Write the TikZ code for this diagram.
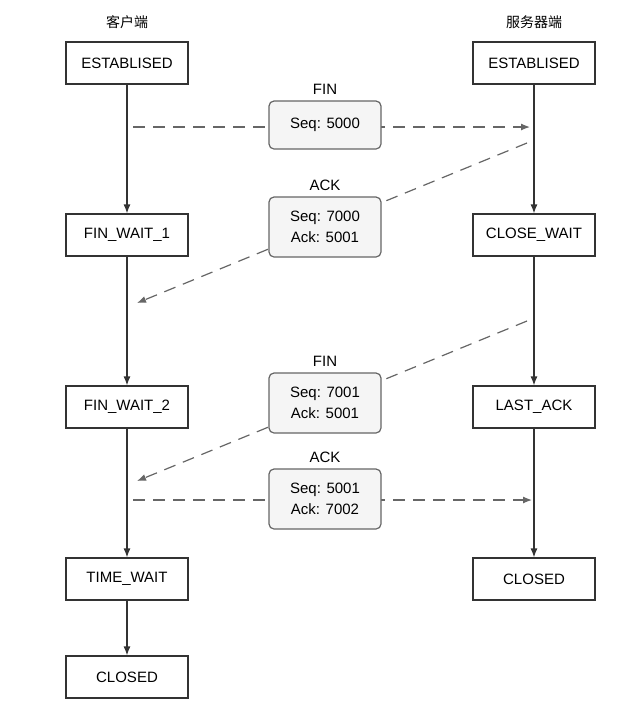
\documentclass[tikz,border=0pt]{standalone}
\usepackage{fontspec}
\setmainfont{Liberation Sans}
\newfontfamily\cjk{Noto Sans CJK SC}
\usetikzlibrary{arrows.meta}
\definecolor{ln}{HTML}{333333}
\definecolor{dl}{HTML}{666666}
\definecolor{bx}{HTML}{F5F5F5}
\begin{document}
\begin{tikzpicture}[x=1pt,y=-1pt,
  font=\fontsize{15}{18}\selectfont,
  st/.style={draw=ln,line width=1.2pt,minimum width=122pt,minimum height=42pt,inner sep=0pt},
  msg/.style={draw=dl,line width=1.2pt,fill=bx,rounded corners=5pt,minimum width=112pt,align=center,inner sep=3pt},
  lbl/.style={inner sep=0pt},
  flow/.style={ln,line width=1.2pt,-{Latex[length=9pt,width=7pt]}},
  msgln/.style={dl,line width=1.2pt,dash pattern=on 12pt off 8pt,-{Latex[length=9pt,width=7pt]}}]
\useasboundingbox (0,0) rectangle (640,716);
% headers
\node[lbl,font=\cjk\fontsize{14}{16}\selectfont] (hc) at (127,22) {客户端};
\node[lbl,font=\cjk\fontsize{14}{16}\selectfont] (hs) at (534,22) {服务器端};
% states
\node[st] (c1) at (127,63) {ESTABLISED};
\node[st] (c2) at (127,235) {FIN\_WAIT\_1};
\node[st] (c3) at (127,407) {FIN\_WAIT\_2};
\node[st] (c4) at (127,579) {TIME\_WAIT};
\node[st] (c5) at (127,677) {CLOSED};
\node[st] (s1) at (534,63) {ESTABLISED};
\node[st] (s2) at (534,235) {CLOSE\_WAIT};
\node[st] (s3) at (534,407) {LAST\_ACK};
\node[st] (s4) at (534,579) {CLOSED};
\draw[flow] (c1) -- (c2);
\draw[flow] (c2) -- (c3);
\draw[flow] (c3) -- (c4);
\draw[flow] (c4) -- (c5);
\draw[flow] (s1) -- (s2);
\draw[flow] (s2) -- (s3);
\draw[flow] (s3) -- (s4);
% message end points
\coordinate (a1) at (133,127); \coordinate (b1) at (530,127);
\coordinate (a2) at (527,143); \coordinate (b2) at (137,303);
\coordinate (a3) at (527,321); \coordinate (b3) at (137,481);
\coordinate (a4) at (133,500); \coordinate (b4) at (532,500);
\draw[msgln] (a1) -- (b1);
\draw[msgln] (a2) -- (b2);
\draw[msgln] (a3) -- (b3);
\draw[msgln] (a4) -- (b4);
% messages
\node[msg,minimum height=48pt] (m1) at (325,125) {Seq: 5000};
\node[msg,minimum height=60pt] (m2) at (325,227) {Seq: 7000\\[3pt]Ack: 5001};
\node[msg,minimum height=60pt] (m3) at (325,403) {Seq: 7001\\[3pt]Ack: 5001};
\node[msg,minimum height=60pt] (m4) at (325,499) {Seq: 5001\\[3pt]Ack: 7002};
\node[lbl,above=6pt] (l1) at (m1.north) {FIN};
\node[lbl,above=6pt] (l2) at (m2.north) {ACK};
\node[lbl,above=6pt] (l3) at (m3.north) {FIN};
\node[lbl,above=6pt] (l4) at (m4.north) {ACK};
\end{tikzpicture}
\end{document}
